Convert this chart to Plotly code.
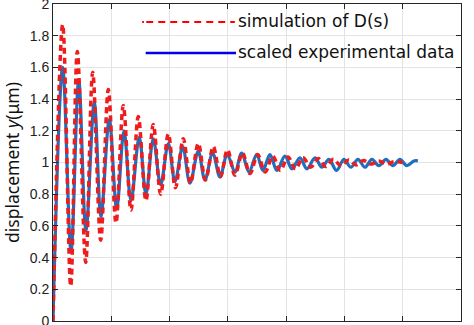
import plotly.graph_objects as go

# Extrema of the simulated response (x in axis units, y in µm)
sim_x = [0, 0.166, 0.304, 0.417, 0.561, 0.681, 0.818, 0.949, 1.081, 1.206, 1.338, 1.463, 1.595,
         1.720, 1.847, 1.978, 2.101, 2.235, 2.358, 2.492, 2.616, 2.750, 2.873, 2.993, 3.122,
         3.25, 3.38, 3.51, 3.64, 3.77, 3.90, 4.03, 4.16, 4.29, 4.42, 4.55, 4.68, 4.81, 4.94,
         5.07, 5.20, 5.33, 5.46, 5.59, 5.72, 5.85, 6.0]
sim_y = [0, 1.87, 0.22, 1.70, 0.37, 1.57, 0.51, 1.46, 0.62, 1.36, 0.70, 1.29, 0.76,
         1.24, 0.80, 1.18, 0.84, 1.15, 0.87, 1.12, 0.89, 1.10, 0.91, 1.08, 0.92,
         1.06, 0.93, 1.05, 0.94, 1.04, 0.95, 1.035, 0.96, 1.03, 0.97, 1.025, 0.975, 1.02, 0.98,
         1.015, 0.985, 1.012, 0.99, 1.01, 0.99, 1.005, 1.0]

# Extrema of the scaled experimental data
exp_x = [0, 0.166, 0.309, 0.441, 0.566, 0.708, 0.823, 0.966, 1.093, 1.218, 1.338, 1.480, 1.595,
         1.720, 1.847, 1.978, 2.093, 2.225, 2.350, 2.492, 2.607, 2.739, 2.864, 2.990, 3.122,
         3.237, 3.362, 3.494, 3.602, 3.722, 3.842, 3.979, 4.10, 4.237, 4.357, 4.494, 4.614,
         4.734, 4.866, 4.991, 5.111, 5.232, 5.352, 5.472, 5.592, 5.712, 5.832, 5.952, 6.072,
         6.192, 6.26]
exp_y = [0, 1.60, 0.44, 1.52, 0.57, 1.38, 0.66, 1.27, 0.71, 1.20, 0.76, 1.16, 0.80,
         1.15, 0.86, 1.12, 0.88, 1.10, 0.87, 1.07, 0.89, 1.06, 0.91, 1.05, 0.94,
         1.06, 0.94, 1.05, 0.95, 1.05, 0.95, 1.04, 0.96, 1.03, 0.96, 1.03, 0.97,
         1.02, 0.95, 1.02, 0.97, 1.02, 0.97, 1.02, 0.98, 1.02, 0.98, 1.02, 0.98,
         1.01, 1.01]

y_ticks = [0, 0.2, 0.4, 0.6, 0.8, 1, 1.2, 1.4, 1.6, 1.8, 2]
y_tick_text = ["0", "0.2", "0.4", "0.6", "0.8", "1", "1.2", "1.4", "1.6", "1.8", "2"]
legend_labels = ["simulation of D(s)", "scaled experimental data"]

fig = go.Figure()
fig.add_trace(go.Scatter(x=exp_x, y=exp_y, mode="lines", line=dict(color="#1f6fc0", width=3.2, shape="spline", smoothing=1.0),
                         showlegend=False))
fig.add_trace(go.Scatter(x=sim_x, y=sim_y, mode="lines", line=dict(color="#ee1c1c", width=3.5, dash="6px,4px", shape="spline", smoothing=1.0),
                         showlegend=False))

# manual legend
fig.add_shape(type="line", x0=1.53, x1=1.56, y0=1.886, y1=1.886, line=dict(color="#ff0000", width=2))
fig.add_shape(type="line", x0=1.60, x1=3.12, y0=1.886, y1=1.886, line=dict(color="#ff0000", width=2, dash="7px,5px"))
fig.add_shape(type="line", x0=1.59, x1=3.14, y0=1.691, y1=1.691, line=dict(color="#0000ee", width=2.5))
fig.add_annotation(x=3.14, y=1.89, text=legend_labels[0], showarrow=False, xanchor="left", yanchor="middle",
                   font=dict(family="DejaVu Sans", size=17, color="#111"))
fig.add_annotation(x=3.14, y=1.695, text=legend_labels[1], showarrow=False, xanchor="left", yanchor="middle",
                   font=dict(family="DejaVu Sans", size=17, color="#111"))

axis_common = dict(showline=True, linecolor="#262626", linewidth=1, mirror="ticks", ticks="inside", ticklen=5,
                   tickcolor="#262626", showgrid=True, gridcolor="#e3e3e3", gridwidth=1, zeroline=False,
                   automargin=False)
fig.update_xaxes(range=[0, 7], dtick=1, tick0=0, showticklabels=False, **axis_common)
fig.update_yaxes(range=[0, 2], tickvals=y_ticks, ticktext=y_tick_text, ticklabeloverflow="allow",
                 tickfont=dict(family="Liberation Sans", size=14, color="#222"),
                 title=dict(text="displacement <i>y</i>(μm)", font=dict(family="Noto Sans", size=17.5, color="#111"), standoff=5),
                 **axis_common)
fig.update_layout(width=474, height=325, margin=dict(l=53, r=13, t=4, b=4),
                  plot_bgcolor="white", paper_bgcolor="white")
fig.write_html("out.html")
